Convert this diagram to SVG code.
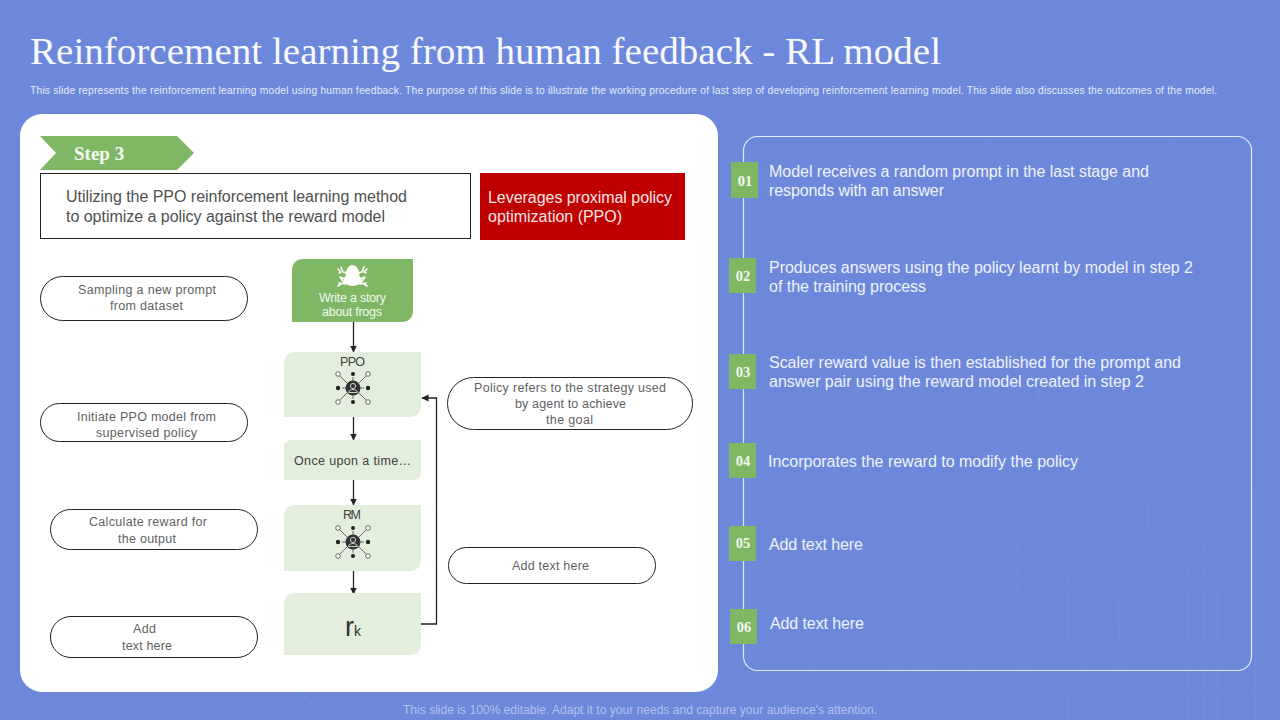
<svg xmlns="http://www.w3.org/2000/svg" width="1280" height="720" viewBox="0 0 1280 720">
<style>
text{font-family:"Liberation Sans",Arial,sans-serif}
.serif{font-family:"Liberation Serif","Times New Roman",serif}
.pill{fill:#fff;stroke:#222;stroke-width:1}
.pt{font-size:12.5px;fill:#5f5f5f;text-anchor:middle}
.lt{fill:#e3efdc}
.rt{font-size:16px;fill:#eff3fc}
.badge{fill:#7fb765}
.bt{font-size:14.5px;font-weight:bold;fill:#f4f8ef;text-anchor:middle;font-family:"Liberation Serif",serif}
.con{fill:none;stroke:#222;stroke-width:1.3}
.ic{stroke:#444;stroke-width:.8;fill:none}
.lbl{font-size:12.5px;fill:#404040;text-anchor:middle}
.frog{fill:none;stroke:#fff;stroke-width:1.6;stroke-linecap:round;stroke-linejoin:round}
</style>
<defs>
<marker id="ah" markerWidth="8" markerHeight="8" refX="6.5" refY="4" orient="auto" markerUnits="userSpaceOnUse"><path d="M0 0.500L7 4L0 7.500Z" fill="#222"/></marker>
<g id="hub">
<path class="ic" d="M-13 -12L-6 -5M13 -12L6 -5M-13 12L-6 5M13 12L6 5M0 -11V-7M0 11V7M-11 0H-7M11 0H7"/>
<circle cx="-15" cy="-14" r="2.300" fill="#fff" stroke="#444" stroke-width=".8"/>
<circle cx="15" cy="-14" r="2.300" fill="#fff" stroke="#444" stroke-width=".8"/>
<circle cx="-15" cy="14" r="2.300" fill="#fff" stroke="#444" stroke-width=".8"/>
<circle cx="15" cy="14" r="2.300" fill="#fff" stroke="#444" stroke-width=".8"/>
<circle cx="0" cy="-14" r="2" fill="#222"/><circle cx="0" cy="14" r="2" fill="#222"/>
<circle cx="-15" cy="0" r="2.200" fill="#222"/><circle cx="15" cy="0" r="2.200" fill="#222"/>
<circle r="7.500" fill="#333"/>
<circle cy="-2" r="2.600" fill="none" stroke="#ccc" stroke-width="1"/>
<path d="M-4.500 4.500C-4 0.500 4 0.500 4.500 4.500Z" fill="none" stroke="#ccc" stroke-width="1"/>
</g>
</defs>

<rect width="1280" height="720" fill="#6d88da"/>
<g fill="none" stroke="#7d97e6" stroke-width="1.200" stroke-linejoin="round" opacity=".32">
<path d="M932 720V500L938 487L1038 423M1038 390V490L970 537V560L995 580V647L972 663V720M995 647L1067 693V720M1038 427L1057 440V463L1113 507M1067 517L1117 553L1120 653V720M1067 577V650L1087 667M1077 560L1043 537V517M1077 560L1067 577M1148 503V527L1187 553V720M1170 507L1203 533V720M1250 567L1218 590V720M1173 390V413L1120 447L1117 460L1090 483M1280 477L1255 493V720M1272 503V720M1018 590V540M1018 590L995 605"/>
<path d="M720 3L755 23V136M890 0V97L850 130M1063 57L1020 93V140M920 0V140M950 120L987 140M1187 0V70L1140 107V140M1280 17L1243 43V110"/>
<path d="M763 400V217L827 177M840 253L920 212L987 250M1040 180V400M1107 243V400M1107 243L1170 197M1233 200V263L1170 307V400M1170 130V173L1203 207M900 300V400M860 280V400M945 300V400"/>
<path d="M760 423V493L720 523M820 390V427L857 453V510M833 510V580L890 620V720M768 570V637L810 650L812 720M720 667L743 647M900 480V720M850 697L877 720M920 470V720M900 480L857 453"/>
<path d="M430 0L470 30H560V5M610 0L640 40V114M700 0V114M665 0V114M600 692V720M300 692L330 720"/>
</g>

<g id="title">
<text class="serif" x="30" y="64" font-size="38" fill="#f7f9fe" textLength="911" lengthAdjust="spacingAndGlyphs">Reinforcement learning from human feedback - RL model</text>
<text x="30" y="94" font-size="10.300" fill="#e6ebfa" textLength="1187" lengthAdjust="spacing">This slide represents the reinforcement learning model  using human  feedback. The purpose of this slide is to illustrate the working procedure of last step of developing reinforcement learning model. This slide also discusses the outcomes of the model.</text>
</g>

<rect id="left-panel" x="20" y="114" width="698" height="578" rx="22" fill="#fff"/>
<rect id="right-panel" x="743.500" y="136.500" width="508" height="534" rx="14" fill="none" stroke="#e4eafa" stroke-width="1.200"/>

<g id="step3">
<path d="M40 136H177L194 153L177 170H40L56 153Z" fill="#7fb765"/>
<text class="serif" x="74" y="160" font-size="19" font-weight="bold" fill="#f6f9f2">Step 3</text>
</g>
<g id="ppo-method">
<rect x="40.500" y="173.500" width="430" height="65" fill="#fff" stroke="#222" stroke-width="1"/>
<text x="66" y="202" font-size="16" fill="#505050" textLength="341">Utilizing the PPO reinforcement learning method</text>
<text x="66" y="222" font-size="16" fill="#505050" textLength="319">to optimize a policy against the reward model</text>
</g>
<g id="ppo-red">
<rect x="480" y="173" width="205" height="67" fill="#c00000"/>
<text x="488" y="203" font-size="16" fill="#f8e6e6" textLength="184">Leverages proximal policy</text>
<text x="488" y="222" font-size="16" fill="#f8e6e6" textLength="134">optimization (PPO)</text>
</g>

<g id="note-sampling"><rect class="pill" x="40.500" y="276.500" width="207" height="44" rx="22"/>
<text class="pt" x="147" y="294" textLength="138">Sampling a new prompt</text><text class="pt" x="146.500" y="310" textLength="73">from dataset</text></g>
<g id="note-initiate"><rect class="pill" x="40.500" y="403.500" width="207" height="38" rx="19"/>
<text class="pt" x="146.500" y="421" textLength="139">Initiate PPO model from</text><text class="pt" x="146.500" y="437" textLength="101">supervised  policy</text></g>
<g id="note-calc"><rect class="pill" x="50.500" y="509.500" width="207" height="40" rx="20"/>
<text class="pt" x="148" y="526" textLength="118">Calculate reward for</text><text class="pt" x="147" y="543" textLength="58">the output</text></g>
<g id="note-add1"><rect class="pill" x="50.500" y="616.500" width="207" height="41" rx="20.500"/>
<text class="pt" x="144.500" y="633" textLength="23">Add</text><text class="pt" x="147" y="650" textLength="50">text here</text></g>
<g id="note-policy"><rect class="pill" x="447.500" y="377.500" width="245" height="52" rx="26"/>
<text class="pt" x="570" y="392" textLength="192">Policy refers  to the strategy used</text><text class="pt" x="570.500" y="408" textLength="111">by agent to achieve</text><text class="pt" x="569.500" y="424" textLength="47">the goal</text></g>
<g id="note-add2"><rect class="pill" x="448.500" y="547.500" width="207" height="36" rx="18"/>
<text class="pt" x="550.500" y="570" textLength="77">Add text here</text></g>

<g id="connectors">
<path class="con" marker-end="url(#ah)" d="M353.500 322V352"/>
<path class="con" marker-end="url(#ah)" d="M353.500 417V440"/>
<path class="con" marker-end="url(#ah)" d="M353.500 480V505"/>
<path class="con" marker-end="url(#ah)" d="M353.500 571V594"/>
<path class="con" marker-end="url(#ah)" d="M421 624H436.500V398H422"/>
</g>

<g id="node-prompt">
<path d="M304 259H413V310Q413 322 401 322H292V271Q292 259 304 259Z" fill="#7fb765"/>
<ellipse cx="352.500" cy="275" rx="7" ry="10" fill="#fff"/>
<ellipse cx="352.500" cy="280" rx="9" ry="6" fill="#fff"/>
<path class="frog" d="M347 273L343 272L341 267M341 272L338 269M341 272L339 273M358 273L362 272L364 267M364 272L367 269M364 272L366 273M345 279L340 277L345 284L339 283M341 284L338 286M360 279L365 277L360 284L366 283M364 284L367 286"/>
<text x="352.500" y="302" font-size="12.500" fill="#f3f8ef" text-anchor="middle" textLength="67">Write a story</text>
<text x="352" y="316" font-size="12.500" fill="#f3f8ef" text-anchor="middle" textLength="60">about frogs</text>
</g>
<g id="node-ppo">
<path class="lt" d="M296 352H421V405Q421 417 409 417H284V364Q284 352 296 352Z"/>
<text class="lbl" x="352.500" y="366" textLength="25">PPO</text>
<use href="#hub" x="353" y="388"/>
</g>
<g id="node-once">
<path class="lt" d="M292 440H421V472Q421 480 413 480H284V448Q284 440 292 440Z"/>
<text class="lbl" x="352.500" y="465" textLength="117">Once upon a time…</text>
</g>
<g id="node-rm">
<path class="lt" d="M296 505H421V559Q421 571 409 571H284V517Q284 505 296 505Z"/>
<text class="lbl" x="352" y="519" textLength="18">RM</text>
<use href="#hub" x="353" y="542"/>
</g>
<g id="node-rk">
<path class="lt" d="M296 593H421V643Q421 655 409 655H284V605Q284 593 296 593Z"/>
<text x="345" y="636" font-size="27" fill="#333">r</text><text x="354" y="636" font-size="14" fill="#333">k</text>
</g>

<g id="item-01"><rect class="badge" x="731" y="162" width="27" height="36"/><text class="bt" x="745" y="186">01</text>
<text class="rt" x="769" y="177" textLength="380">Model receives a random prompt in the last stage and</text><text class="rt" x="769" y="196" textLength="175">responds with an answer</text></g>
<g id="item-02"><rect class="badge" x="729" y="258" width="27" height="35"/><text class="bt" x="743" y="281">02</text>
<text class="rt" x="769" y="273" textLength="424">Produces answers using the policy learnt by model in step 2</text><text class="rt" x="769" y="292" textLength="157">of the training process</text></g>
<g id="item-03"><rect class="badge" x="729" y="354" width="27" height="35"/><text class="bt" x="743" y="377">03</text>
<text class="rt" x="769" y="368" textLength="412">Scaler reward value is then established for the prompt and</text><text class="rt" x="769" y="387" textLength="375">answer pair using the reward model created in step 2</text></g>
<g id="item-04"><rect class="badge" x="729" y="443" width="27" height="35"/><text class="bt" x="743" y="466">04</text>
<text class="rt" x="768" y="467" textLength="310">Incorporates  the reward to modify the policy</text></g>
<g id="item-05"><rect class="badge" x="729" y="526" width="27" height="35"/><text class="bt" x="743" y="548">05</text>
<text class="rt" x="769" y="550" textLength="94">Add text here</text></g>
<g id="item-06"><rect class="badge" x="730" y="609" width="27" height="35"/><text class="bt" x="744" y="632">06</text>
<text class="rt" x="770" y="629" textLength="94">Add text here</text></g>

<text id="footer" x="640" y="714" font-size="12" fill="#b4c2ee" text-anchor="middle" textLength="474">This slide is 100% editable. Adapt it to your needs and capture your audience's attention.</text>
</svg>
